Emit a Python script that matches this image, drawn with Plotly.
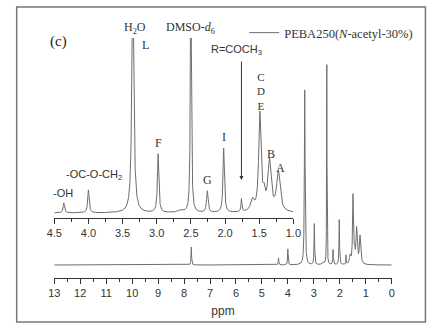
import numpy as np
import plotly.graph_objects as go

# ---- data (1H NMR peak table, intensity in arbitrary units) ----
peak_ppm = [7.72, 4.36, 4.00, 3.35, 2.98, 2.65, 2.50, 2.26, 2.02, 1.76, 1.60, 1.49, 1.43, 1.35, 1.22]
peak_int = [18, 7, 16, 175, 41, 1.5, 200, 15, 45, 9, 8, 68, 10, 35, 28]
peak_hw = [0.012, 0.012, 0.012, 0.016, 0.012, 0.05, 0.008, 0.013, 0.012, 0.008, 0.03, 0.02, 0.02, 0.028, 0.03]

main_ticks = list(range(0, 14))
inset_ticks = [1.0, 1.5, 2.0, 2.5, 3.0, 3.5, 4.0, 4.5]
series_name = "PEBA250(<i>N</i>-acetyl-30%)"

W, H = 445, 329


def spectrum(x):
    y = np.zeros_like(x)
    for p, h, g in zip(peak_ppm, peak_int, peak_hw):
        y += h * g * g / ((x - p) ** 2 + g * g)
    return y


x_main = np.linspace(13, 0, 6501)
x_ins = np.linspace(4.5, 1.0, 3501)

fig = go.Figure()
fig.add_trace(go.Scatter(x=x_main, y=spectrum(x_main), mode="lines",
                         line=dict(color="#6e6e6e", width=1), name=series_name,
                         xaxis="x", yaxis="y", showlegend=True))
fig.add_trace(go.Scatter(x=x_ins, y=spectrum(x_ins), mode="lines",
                         line=dict(color="#6e6e6e", width=1), name=series_name,
                         xaxis="x2", yaxis="y2", showlegend=False))


def px(v):
    return v / W


def py(v):
    return 1 - v / H


sans = "Liberation Sans, Arial, sans-serif"
serif = "Liberation Serif, Times New Roman, serif"
axis_common = dict(showline=True, linecolor="#333", linewidth=1, ticks="outside",
                   ticklen=5, tickwidth=1, tickcolor="#333", showgrid=False, zeroline=False,
                   tickfont=dict(family=sans, size=11, color="#333"))

fig.update_layout(
    width=W, height=H, autosize=False,
    margin=dict(l=0, r=0, t=0, b=0),
    paper_bgcolor="white", plot_bgcolor="white",
    xaxis=dict(domain=[px(48), px(398)], range=[13, 0], anchor="y",
               tickvals=main_ticks, ticktext=[str(t) for t in main_ticks],
               minor=dict(dtick=0.5, tick0=0, ticklen=3, ticks="outside", tickcolor="#333"),
               title=dict(text="ppm", font=dict(family=sans, size=12, color="#333"), standoff=8),
               **axis_common),
    yaxis=dict(domain=[py(278), py(8)], range=[-13, 257], visible=False, anchor="x"),
    xaxis2=dict(domain=[px(48), px(296)], range=[4.5, 1.0], anchor="y2",
                tickvals=inset_ticks, ticktext=["%.1f" % t for t in inset_ticks],
                minor=dict(dtick=0.25, tick0=0, ticklen=3, ticks="outside", tickcolor="#333"),
                **axis_common),
    yaxis2=dict(domain=[py(218), py(38)], range=[-3.5, 122.5], visible=False, anchor="x2"),
    legend=dict(x=px(245), xanchor="left", y=py(33), yanchor="middle",
                bgcolor="rgba(0,0,0,0)", font=dict(family=serif, size=12.5, color="#333"),
                itemwidth=30),
    showlegend=True,
)

# outer frame
fig.add_shape(type="rect", xref="paper", yref="paper", x0=px(9), x1=px(433), y0=py(322), y1=py(7),
              line=dict(color="#777", width=1.5))

labels = [
    # text, ppm (inset x), y px, family, size
    ("H<sub>2</sub>O", 3.32, 28, serif, 12),
    ("L", 3.16, 45, serif, 12),
    ("DMSO-<i>d</i><sub>6</sub>", 2.50, 28, serif, 12),
    ("R=COCH<sub>3</sub>", 1.83, 50, sans, 11),
    ("C<br>D<br>E", 1.47, 91, serif, 11),
    ("F", 2.98, 143, serif, 12),
    ("I", 2.02, 137, serif, 12),
    ("G", 2.26, 180, serif, 12),
    ("B", 1.33, 154, serif, 12),
    ("A", 1.19, 168, serif, 12),
    ("-OC-O-CH<sub>2</sub>", 3.92, 175, sans, 11),
    ("-OH", 4.37, 193, sans, 11),
]
for t, xv, yv, fam, sz in labels:
    fig.add_annotation(text=t, x=xv, xref="x2", y=py(yv), yref="paper", showarrow=False,
                       xanchor="center", yanchor="middle", font=dict(family=fam, size=sz, color="#333"))

fig.add_annotation(text="(c)", x=px(52), y=py(42), xref="paper", yref="paper", showarrow=False,
                   xanchor="center", yanchor="middle",
                   font=dict(family=serif, size=15, color="#222"))

# arrow marking R=COCH3 peak
fig.add_annotation(text="", x=1.76, xref="x2", y=py(180), yref="paper", ax=0, ay=-120,
                   showarrow=True, arrowhead=2, arrowsize=0.8, arrowwidth=1, arrowcolor="#333")

fig.write_html("out.html", config={"displayModeBar": False},
               post_script="document.body.style.margin='0';document.body.style.overflow='hidden';")
